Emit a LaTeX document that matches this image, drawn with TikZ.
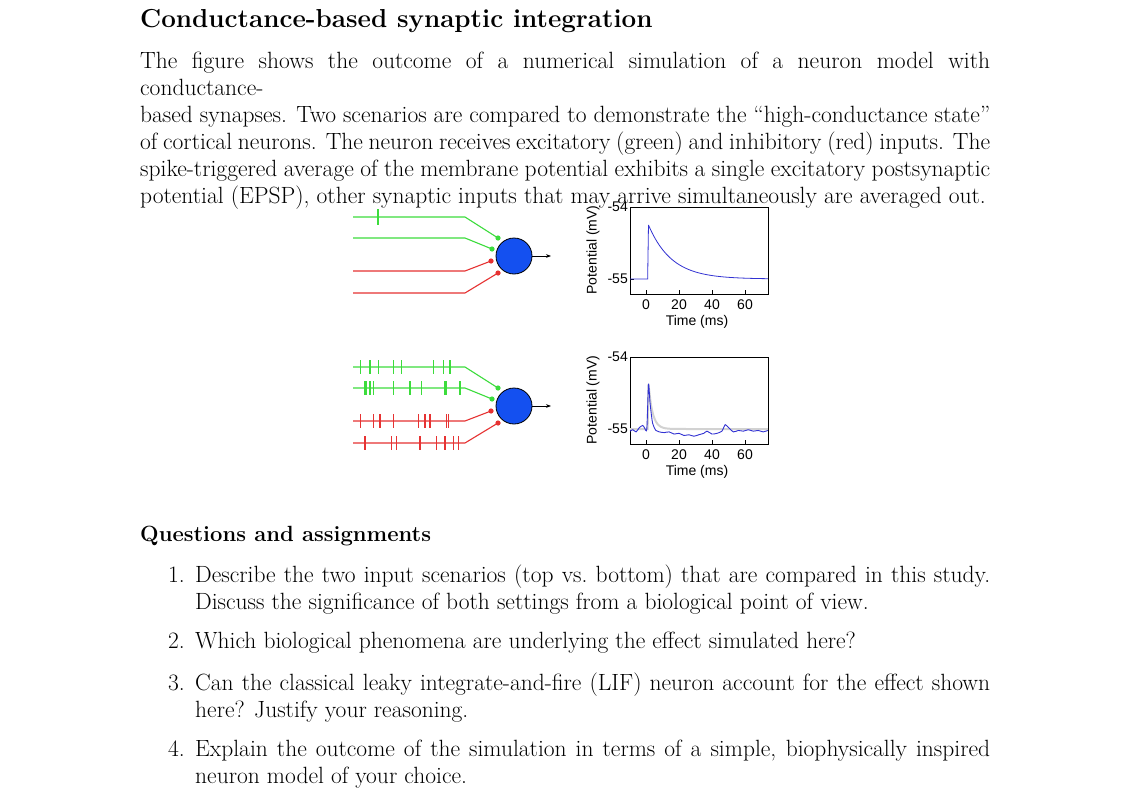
\documentclass[tikz,border=0pt]{standalone}
\usepackage{fontspec}
\newfontfamily\axfont{Liberation Sans}
\usetikzlibrary{arrows.meta}
\definecolor{exc}{RGB}{60,220,60}
\definecolor{inh}{RGB}{230,50,50}
\definecolor{soma}{RGB}{20,80,240}
\definecolor{trace}{RGB}{50,50,210}
\tikzset{
 body/.style={anchor=base west,inner sep=0,align=justify,font=\fontsize{23.5}{27}\selectfont},
 ax/.style={font=\axfont\fontsize{14}{16}\selectfont,inner sep=1pt},
 somanode/.style={circle,draw=black,fill=soma,minimum size=36pt,inner sep=0,line width=0.8pt},
 syn/.style={line width=1.1pt},
 tick/.style={line width=1.1pt},
}
\begin{document}
\begin{tikzpicture}[x=1pt,y=-1pt]
\useasboundingbox (0,0) rectangle (1125,800);
\fill[white] (0,0) rectangle (1125,800);
\node[anchor=base west,inner sep=0,font=\fontsize{26}{30}\selectfont\bfseries] (title) at (140,28) {Conductance-based synaptic integration};
\node[body,text width=850pt] (para) at (140,69) {The figure shows the outcome of a numerical simulation of a neuron model with conductance-\linebreak based synapses. Two scenarios are compared to demonstrate the ``high-conductance state''\linebreak of cortical neurons. The neuron receives excitatory (green) and inhibitory (red) inputs. The\linebreak spike-triggered average of the membrane potential exhibits a single excitatory postsynaptic\linebreak potential (EPSP), other synaptic inputs that may arrive simultaneously are averaged out.};

% ---- neurons
\foreach \oy/\nm in {0/A,150/B}{
 \begin{scope}[yshift=-\oy pt]
  \node[somanode] (soma\nm) at (514,256) {};
  \coordinate (d1\nm) at (498,238);
  \coordinate (d2\nm) at (492,249);
  \coordinate (d3\nm) at (491,261);
  \coordinate (d4\nm) at (498,273);
  \draw[syn,exc] (353,217) -- (465,217) -- (d1\nm);
  \draw[syn,exc] (353,238) -- (465,238) -- (d2\nm);
  \draw[syn,inh] (353,271) -- (465,271) -- (d3\nm);
  \draw[syn,inh] (353,293) -- (465,293) -- (d4\nm);
  \fill[exc] (d1\nm) circle (2.6pt) (d2\nm) circle (2.6pt);
  \fill[inh] (d3\nm) circle (2.6pt) (d4\nm) circle (2.6pt);
  \coordinate (out\nm) at (551,256);
  \draw[line width=0.9pt,-{Stealth[length=5pt]}] (soma\nm.east) -- (out\nm);
 \end{scope}
}
\draw[tick,exc] (378,209) -- (378,225);
\foreach \x in {360.7,370,378.3,393.3,401.7,433.3,443.3,450} \draw[tick,exc] (\x,360) -- (\x,374);
\foreach \x in {365,366.7,370,373.3,393.3,410,421.7,445,446.7,460} \draw[tick,exc] (\x,381) -- (\x,395);
\foreach \x in {360.7,373.3,380,393.3,418.3,425,430,446.7,448.3} \draw[tick,inh] (\x,414) -- (\x,428);
\foreach \x in {365,391.7,396.7,420,436.7,445,453.3,458.3} \draw[tick,inh] (\x,436) -- (\x,450);

% ---- plots
\foreach \oy/\nm in {0/A,150/B}{
 \begin{scope}[yshift=-\oy pt]
  \draw[line width=0.8pt] (630,207) rectangle (768,294);
  \foreach \t in {0,20,40,60}{
   \draw[line width=0.6pt] ({646+1.65*\t},294) -- ({646+1.65*\t},290);
   \node[ax,anchor=north] at ({646+1.65*\t},299) {\t};}
  \draw[line width=0.6pt] (630,207) -- (634,207) (630,279) -- (634,279);
  \node[ax,anchor=east] at (629,207) {-54};
  \node[ax,anchor=east] at (629,279) {-55};
  \node[ax,anchor=north] (xl\nm) at (697,314) {Time (ms)};
  \node[ax,rotate=90] (yl\nm) at (593,250) {Potential (mV)};
 \end{scope}
}
\begin{scope}[shift={(646,279)},x=1.65pt,y=72pt]
 \draw[trace,line width=0.8pt] (-9.7,0) -- (1,0) -- (1.5,0.75)
  plot[domain=1.5:73.8,samples=70,smooth] (\x,{0.75*exp(-(\x-1.5)/14)});
\end{scope}
\begin{scope}[shift={(646,429)},x=1.65pt,y=72pt]
 \draw[gray!35,line width=2pt] (-9.7,0) -- (1,0) -- (1.5,0.62)
  plot[domain=1.5:73.8,samples=50,smooth] (\x,{0.62*exp(-(\x-1.5)/2.5)});
 \draw[trace,line width=0.9pt] plot[smooth,tension=0.4] coordinates{(-9.7,-0.03)(-8,-0.01)(-6,-0.04)(-4,0.02)(-2,0.05)(-1,0.02)(0.5,0.0)(1.5,0.62)(2.5,0.35)(4,0.08)(6,-0.02)(8,-0.04)(11,-0.05)(14,-0.04)(17,-0.07)(20,-0.06)(23,-0.09)(26,-0.08)(29,-0.10)(32,-0.08)(35,-0.06)(37,-0.03)(40,-0.07)(43,-0.06)(46,-0.03)(48,0.06)(50,0.02)(53,-0.04)(56,-0.02)(59,-0.03)(62,-0.01)(65,-0.03)(68,-0.02)(71,-0.04)(73.8,-0.02)};
\end{scope}

% ---- questions
\node[anchor=base west,inner sep=0,font=\fontsize{22}{27}\selectfont\bfseries] (qt) at (140,541) {Questions and assignments};
\node[body,anchor=base east] (n1) at (185,582) {1.};
\node[body,text width=795pt] (q1) at (195,582) {Describe the two input scenarios (top vs.\ bottom) that are compared in this study.\linebreak Discuss the significance of both settings from a biological point of view.};
\node[body,anchor=base east] (n2) at (185,648) {2.};
\node[body,text width=795pt] (q2) at (195,648) {Which biological phenomena are underlying the effect simulated here?};
\node[body,anchor=base east] (n3) at (185,690) {3.};
\node[body,text width=795pt] (q3) at (195,690) {Can the classical leaky integrate-and-fire (LIF) neuron account for the effect shown\linebreak here? Justify your reasoning.};
\node[body,anchor=base east] (n4) at (185,756) {4.};
\node[body,text width=795pt] (q4) at (195,756) {Explain the outcome of the simulation in terms of a simple, biophysically inspired\linebreak neuron model of your choice.};
\end{tikzpicture}
\end{document}
